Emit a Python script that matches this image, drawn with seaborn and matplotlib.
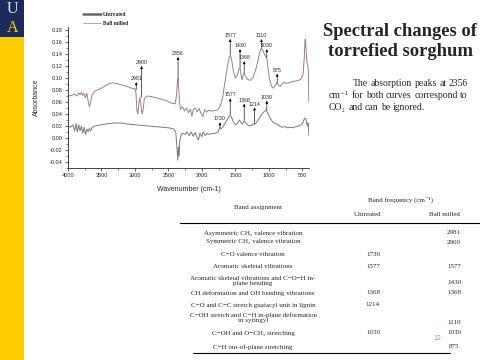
import numpy as np
import pandas as pd
import matplotlib
matplotlib.use("Agg")
import matplotlib.pyplot as plt
import seaborn as sns
from matplotlib.lines import Line2D
from matplotlib.patches import Rectangle
from matplotlib.ticker import MultipleLocator, FormatStrFormatter

# ---------------- data ----------------
wn_ball = [4000, 3950, 3900, 3870, 3840, 3820, 3800, 3780, 3760, 3740, 3720, 3700, 3680, 3660,
           3640, 3600, 3560, 3500, 3400, 3330, 3250, 3150, 3050, 3000, 2985, 2970, 2955, 2940,
           2925, 2910, 2895, 2880, 2860, 2820, 2750, 2650, 2550, 2450, 2400, 2380, 2365, 2355,
           2345, 2335, 2320, 2290, 2260, 2230, 2200, 2170, 2150, 2130, 2100, 2070, 2040, 2010,
           1985, 1960, 1930, 1900, 1850, 1800, 1760, 1720, 1690, 1660, 1620, 1590, 1577, 1560,
           1530, 1500, 1470, 1445, 1430, 1415, 1400, 1385, 1368, 1350, 1320, 1280, 1240, 1200,
           1160, 1130, 1110, 1090, 1060, 1040, 1030, 1010, 990, 960, 930, 905, 880, 860, 830,
           800, 770, 740, 700, 650, 600, 560, 520, 490, 470, 460, 455, 445, 430, 420, 410, 403]
abs_ball = [0.070, 0.071, 0.073, 0.070, 0.075, 0.072, 0.076, 0.071, 0.074, 0.067, 0.075, 0.062,
            0.052, 0.060, 0.072, 0.078, 0.080, 0.083, 0.090, 0.092, 0.090, 0.087, 0.083, 0.082,
            0.075, 0.045, 0.040, 0.060, 0.068, 0.055, 0.040, 0.045, 0.065, 0.070, 0.069, 0.066,
            0.063, 0.058, 0.057, 0.070, 0.095, 0.098, 0.080, 0.060, 0.048, 0.052, 0.045, 0.050,
            0.042, 0.048, 0.036, 0.047, 0.050, 0.044, 0.049, 0.040, 0.036, 0.047, 0.043, 0.046,
            0.045, 0.046, 0.047, 0.055, 0.068, 0.090, 0.118, 0.135, 0.138, 0.133, 0.112, 0.100,
            0.105, 0.116, 0.117, 0.105, 0.097, 0.104, 0.110, 0.103, 0.098, 0.096, 0.100, 0.112,
            0.130, 0.145, 0.150, 0.146, 0.138, 0.135, 0.133, 0.115, 0.098, 0.086, 0.083, 0.088,
            0.092, 0.089, 0.086, 0.090, 0.093, 0.091, 0.092, 0.094, 0.095, 0.096, 0.098, 0.105,
            0.135, 0.162, 0.165, 0.150, 0.125, 0.122, 0.115, 0.060]

wn_untr = [4000, 3960, 3930, 3900, 3880, 3860, 3840, 3820, 3800, 3780, 3760, 3740, 3720, 3700,
           3680, 3660, 3640, 3600, 3500, 3400, 3300, 3200, 3100, 3000, 2900, 2800, 2700, 2600,
           2500, 2420, 2390, 2370, 2360, 2350, 2340, 2330, 2310, 2280, 2250, 2220, 2190, 2160,
           2130, 2100, 2070, 2050, 2030, 2000, 1980, 1950, 1920, 1900, 1860, 1800, 1760, 1740,
           1730, 1715, 1690, 1650, 1610, 1580, 1560, 1530, 1500, 1470, 1440, 1420, 1400, 1380,
           1368, 1350, 1320, 1290, 1260, 1240, 1214, 1190, 1160, 1120, 1080, 1050, 1030, 1010,
           980, 950, 920, 890, 860, 830, 800, 760, 720, 680, 640, 600, 560, 520, 490, 470, 455,
           440, 425, 415, 410, 403]
abs_untr = [0.020, 0.018, 0.022, 0.012, 0.024, 0.010, 0.022, 0.012, 0.020, 0.008, 0.018, 0.006,
            0.015, 0.010, 0.016, 0.012, 0.018, 0.020, 0.022, 0.024, 0.025, 0.025, 0.023, 0.022,
            0.021, 0.020, 0.019, 0.018, 0.017, 0.015, 0.010, -0.020, -0.037, -0.015, -0.030,
            -0.005, 0.005, 0.008, 0.006, 0.010, 0.004, 0.010, 0.003, 0.009, 0.000, -0.003, 0.008,
            0.002, 0.010, 0.004, 0.008, 0.006, 0.007, 0.008, 0.010, 0.016, 0.018, 0.015, 0.018,
            0.025, 0.033, 0.038, 0.035, 0.027, 0.022, 0.024, 0.030, 0.027, 0.023, 0.026, 0.028,
            0.026, 0.022, 0.020, 0.021, 0.023, 0.023, 0.025, 0.030, 0.037, 0.043, 0.046, 0.045,
            0.040, 0.033, 0.028, 0.025, 0.024, 0.022, 0.019, 0.018, 0.019, 0.017, 0.018, 0.017,
            0.019, 0.020, 0.022, 0.026, 0.032, 0.033, 0.028, 0.020, 0.025, 0.022, 0.005]

series_names = ["Untreated", "Ball milled"]
peaks_ball = [2981, 2900, 2356, 1577, 1430, 1368, 1110, 1030, 875]
peaks_untr = [1730, 1577, 1368, 1214, 1030]
x_ticks = [4000, 3500, 3000, 2500, 2000, 1500, 1000, 500]
y_ticks = [-0.04, -0.02, 0.00, 0.02, 0.04, 0.06, 0.08, 0.10, 0.12, 0.14, 0.16, 0.18]

band_names = ["Asymmetric CH\u2082 valence vibration",
              "Symmetric CH\u2082 valence vibration",
              "C\u2212O valence vibration",
              "Aromatic skeletal vibrations",
              "Aromatic skeletal vibrations and C\u2212O\u2212H in-\nplane bending",
              "CH deformation and OH bending vibrations",
              "C\u2212O and C\u2212C stretch guaiacyl unit in lignin",
              "C\u2212OH stretch and C\u2212H in-plane deformation\nin syringyl",
              "C\u2212OH and O\u2212CH\u2083 stretching",
              "C\u2212H out-of-plane stretching"]
freq_untr = ["", "", "1730", "1577", "", "1368", "1214", "", "1030", ""]
freq_ball = ["2981", "2900", "", "1577", "1430", "1368", "", "1110", "1030", "875"]

# ---------------- layout ----------------
W, H = 480, 360
SERIF = ["Liberation Serif", "DejaVu Serif"]
SANS = ["Liberation Sans", "DejaVu Sans"]

sns.set_style("ticks")
plt.rcParams["font.family"] = SANS

fig = plt.figure(figsize=(W / 100, H / 100), dpi=100)
fig.patch.set_facecolor("white")

def P(x, y):
    return (x / W, 1 - y / H)

# logo strip
fig.add_artist(Rectangle((0, 0), 24 / W, 1 - 37 / H, transform=fig.transFigure,
                         facecolor="#FFCC00", edgecolor="none"))
fig.add_artist(Rectangle(P(0, 37), 24 / W, 37 / H, transform=fig.transFigure,
                         facecolor="#1B2B5B", edgecolor="none"))
fig.text(*P(12, 9), "U", color="#E8E8E8", family=SERIF, fontsize=11.5,
         ha="center", va="center")
fig.text(*P(13, 28), "A", color="#FFCC00", family=SERIF, fontsize=11.5,
         ha="center", va="center")

# chart axes
ax_l, ax_r, ax_t, ax_b = 68, 309, 27, 168
ax = fig.add_axes([ax_l / W, 1 - ax_b / H, (ax_r - ax_l) / W, (ax_b - ax_t) / H])
ax.set_facecolor("none")

df = pd.concat([
    pd.DataFrame({"wn": wn_untr, "A": abs_untr, "sample": series_names[0]}),
    pd.DataFrame({"wn": wn_ball, "A": abs_ball, "sample": series_names[1]}),
])
sns.lineplot(data=df, x="wn", y="A", hue="sample", estimator=None, sort=False,
             palette={"Untreated": "#7a7a7a", "Ball milled": "#9a8080"},
             linewidth=0.7, ax=ax, legend=False)

ax.set_xlim(4000, 400)
ax.set_ylim(-0.05, 0.185)
ax.set_xticks(x_ticks)
ax.set_yticks(y_ticks)
ax.yaxis.set_major_formatter(FormatStrFormatter("%.2f"))
ax.xaxis.set_minor_locator(MultipleLocator(250))
ax.yaxis.set_minor_locator(MultipleLocator(0.01))
ax.tick_params(which="major", direction="out", length=2.2, width=0.5, labelsize=4, pad=1.5)
ax.tick_params(which="minor", direction="out", length=1.2, width=0.4)
sns.despine(ax=ax)
for s in ("left", "bottom"):
    ax.spines[s].set_linewidth(0.6)
ax.set_xlabel("Wavenumber (cm-1)", fontsize=5)
ax.set_ylabel("Absorbance", fontsize=5)
ax.xaxis.set_label_coords(0.5, -(186 - ax_b) / (ax_b - ax_t))
ax.yaxis.set_label_coords(-(68 - 40) / (ax_r - ax_l), 0.5)

handles = [Line2D([], [], color="#666666", lw=1.8),
           Line2D([], [], color="#a0a0a0", lw=0.6)]
leg = ax.legend(handles, series_names, loc="upper left", frameon=False,
                bbox_to_anchor=((81 - ax_l) / (ax_r - ax_l), (ax_b - 10) / (ax_b - ax_t)),
                handlelength=3.2, handletextpad=0.3, labelspacing=0.75, borderaxespad=0,
                prop={"family": SERIF, "size": 4, "weight": "bold"})

# peak annotations: (tail, tip) heights
ann_ball = {2981: (0.080, 0.093), 2900: (0.068, 0.120), 2356: (0.098, 0.135),
            1577: (0.139, 0.165), 1430: (0.118, 0.148), 1368: (0.111, 0.128),
            1110: (0.151, 0.165), 1030: (0.134, 0.148), 875: (0.092, 0.107)}
ann_untr = {1730: (0.018, 0.026), 1577: (0.039, 0.066), 1368: (0.029, 0.057),
            1214: (0.024, 0.051), 1030: (0.046, 0.062)}
for peaks, ann in ((peaks_ball, ann_ball), (peaks_untr, ann_untr)):
    for p in peaks:
        tail, tip = ann[p]
        ax.annotate("", xy=(p, tip), xytext=(p, tail),
                    arrowprops=dict(arrowstyle="-|>", lw=0.45, color="black",
                                    mutation_scale=3.5, shrinkA=0, shrinkB=0))
        ax.text(p, tip + 0.0015, str(p), fontsize=3.8, ha="center", va="bottom")

# title
fig.text(*P(400, 31), "Spectral changes of", family=SERIF, fontsize=13.4,
         fontweight="bold", ha="center", va="center")
fig.text(*P(400, 52), "torrefied sorghum", family=SERIF, fontsize=13.4,
         fontweight="bold", ha="center", va="center")

# justified paragraph
para = ["The absorption peaks at 2356",
        "cm\u207B\u00B9 for both curves correspond to",
        "CO\u2082 and can be ignored."]
para_y = [83, 95, 107]
fs_p = 7
renderer = fig.canvas.get_renderer()
x0, x1, indent = 329, 468, 24
space = fs_p * 100 / 72 * 0.25
for i, (line, y) in enumerate(zip(para, para_y)):
    words = line.split(" ")
    ts = [fig.text(0, 0, w, family=SERIF, fontsize=fs_p, va="center", ha="left") for w in words]
    ws = [t.get_window_extent(renderer).width for t in ts]
    start = x0 + (indent if i == 0 else 0)
    gap = space if i == len(para) - 1 else (x1 - start - sum(ws)) / (len(words) - 1)
    x = start
    for t, w in zip(ts, ws):
        t.set_position(P(x, y))
        x += w + gap

# table
fs_t = 5
fig.text(*P(258, 208), "Band assignment", family=SERIF, fontsize=fs_t, ha="center", va="center")
fig.text(*P(400, 200), "Band frequency (cm\u207B\u00B9)", family=SERIF, fontsize=fs_t,
         ha="center", va="center")
fig.text(*P(368, 214), "Untreated", family=SERIF, fontsize=fs_t, ha="center", va="center")
fig.text(*P(444, 214), "Ball milled", family=SERIF, fontsize=fs_t, ha="center", va="center")
fig.add_artist(Line2D([180 / W, 1.0], [1 - 223 / H] * 2, transform=fig.transFigure,
                      color="black", lw=0.8))
fig.add_artist(Line2D([193 / W, 450 / W], [1 - 353 / H] * 2, transform=fig.transFigure,
                      color="black", lw=0.8))
row_y = [233, 242, 255, 267, 281, 293, 305, 318, 333, 347]
val_y = [233, 242, 255, 267, 282, 293, 305, 323, 333, 347]
for name, fu, fb, ry, vy in zip(band_names, freq_untr, freq_ball, row_y, val_y):
    fig.text(*P(253, ry), name, family=SERIF, fontsize=fs_t, ha="center", va="center",
             linespacing=1.0)
    if fu:
        fig.text(*P(373, vy), fu, family=SERIF, fontsize=fs_t, ha="center", va="center")
    if fb:
        fig.text(*P(454, vy), fb, family=SERIF, fontsize=fs_t, ha="center", va="center")

fig.text(*P(437, 338), "12", family=SANS, fontsize=5, color="#6FA8C8", ha="center", va="center")

fig.savefig("out.png", dpi=100)
